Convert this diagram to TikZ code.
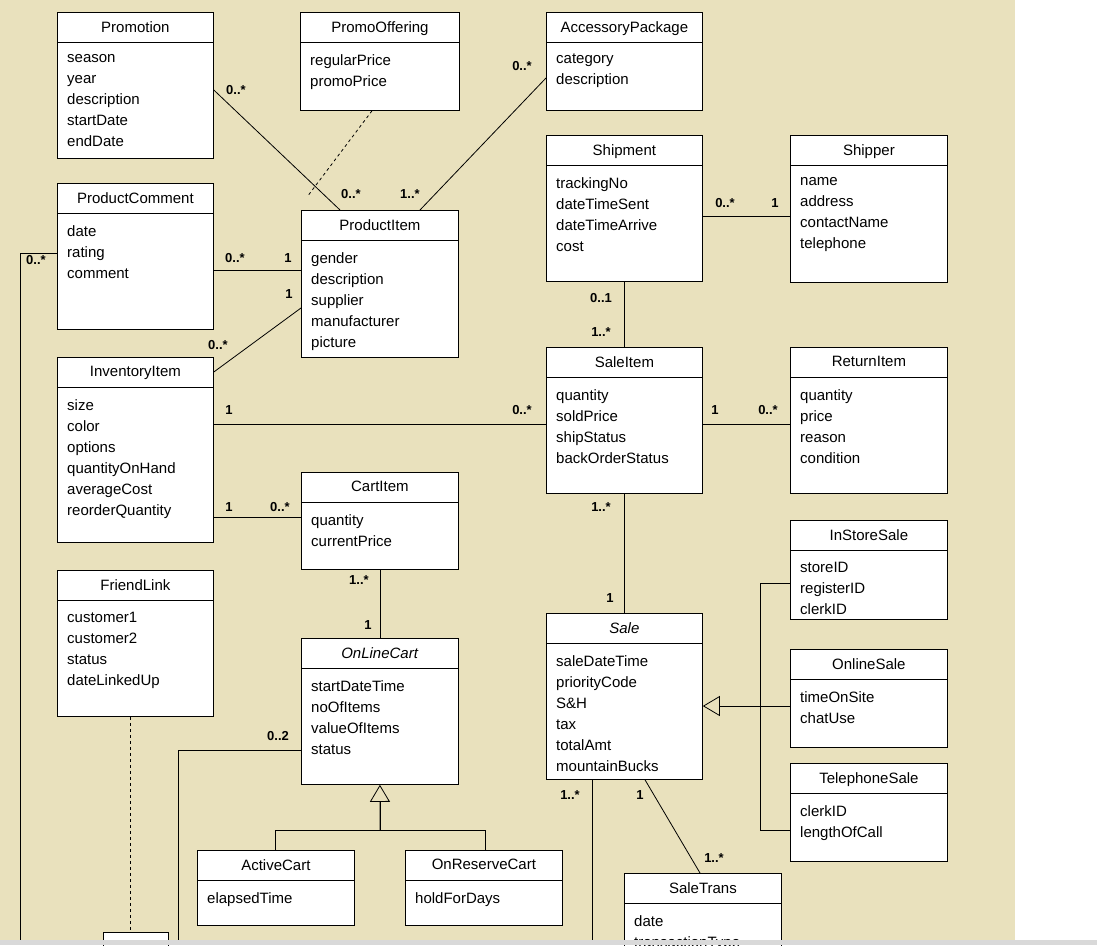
\documentclass[tikz,border=0pt]{standalone}
\usepackage{fontspec}
\setmainfont{Liberation Sans}
\usetikzlibrary{arrows.meta,positioning,calc}
\definecolor{paper}{HTML}{E9E1BD}
\tikzset{
  cls/.style={draw, thick, fill=white, inner sep=0pt, anchor=north west},
  ttl/.style={font=\fontsize{15}{18}\selectfont, anchor=north, inner sep=0pt},
  att/.style={font=\fontsize{15}{21}\selectfont, align=left, anchor=north west, inner sep=0pt},
  mult/.style={font=\fontsize{13}{15}\selectfont\bfseries, inner sep=1pt},
  link/.style={thick},
  note/.style={thick, dash pattern=on 3pt off 3pt},
  gen/.style={thick, -{Triangle[open, length=17pt, width=20pt]}}
}
% name, x, y, width, height, title, attributes
\newcommand\umlbox[7]{%
  \node[cls, minimum width=#4pt, minimum height=#5pt] (#1) at (#2,#3) {};
  \draw[thick] (#1.north west) ++(0,30) -- ++(#4,0);
  \node[ttl] at ($(#1.north)+(0,9)$) {#6};
  \node[att] at ($(#1.north west)+(10,42)$) {#7};
}
\begin{document}
\begin{tikzpicture}[x=1pt, y=-1pt]
  \useasboundingbox (0,0) rectangle (1097,945);
  \fill[paper] (0,0) rectangle (1015,940);

  \umlbox{promotion}{57}{12}{156}{146}{Promotion}{season\\year\\description\\startDate\\endDate}
  \umlbox{promooffer}{300}{12}{159}{98}{PromoOffering}{regularPrice\\promoPrice}
  \umlbox{accessory}{546}{12}{156}{98}{AccessoryPackage}{category\\description}
  \umlbox{shipment}{546}{135}{156}{146}{Shipment}{trackingNo\\dateTimeSent\\dateTimeArrive\\cost}
  \umlbox{shipper}{790}{135}{157}{147}{Shipper}{name\\address\\contactName\\telephone}
  \umlbox{comment}{57}{183}{156}{146}{ProductComment}{date\\rating\\comment}
  \umlbox{product}{301}{210}{157}{147}{ProductItem}{gender\\description\\supplier\\manufacturer\\picture}
  \umlbox{inventory}{57}{357}{156}{185}{InventoryItem}{size\\color\\options\\quantityOnHand\\averageCost\\reorderQuantity}
  \umlbox{saleitem}{546}{347}{156}{146}{SaleItem}{quantity\\soldPrice\\shipStatus\\backOrderStatus}
  \umlbox{returnitem}{790}{347}{157}{146}{ReturnItem}{quantity\\price\\reason\\condition}
  \umlbox{cartitem}{301}{472}{157}{97}{CartItem}{quantity\\currentPrice}
  \umlbox{friend}{57}{570}{156}{146}{FriendLink}{customer1\\customer2\\status\\dateLinkedUp}
  \umlbox{instore}{790}{520}{157}{99}{InStoreSale}{storeID\\registerID\\clerkID}
  \umlbox{onlinecart}{301}{638}{157}{146}{\textit{OnLineCart}}{startDateTime\\noOfItems\\valueOfItems\\status}
  \umlbox{sale}{546}{613}{156}{166}{\textit{Sale}}{saleDateTime\\priorityCode\\S\&H\\tax\\totalAmt\\mountainBucks}
  \umlbox{onlinesale}{790}{649}{157}{98}{OnlineSale}{timeOnSite\\chatUse}
  \umlbox{phonesale}{790}{763}{157}{98}{TelephoneSale}{clerkID\\lengthOfCall}
  \umlbox{activecart}{197}{850}{157}{75}{ActiveCart}{elapsedTime}
  \umlbox{reservecart}{405}{850}{157}{75}{OnReserveCart}{holdForDays}
  \umlbox{saletrans}{624}{873}{157}{80}{SaleTrans}{date\\transactionType}
  \node[cls, minimum width=65pt, minimum height=20pt] (lowbox) at (103,932) {};
  \fill[gray!30] (0,940) rectangle (1097,945);

  % associations
  \coordinate (promomid) at (307,197);
  \draw[link] (promotion.east |- 0,90) -- (product.north west -| 340,0);
  \draw[note] (promooffer.south -| 372,0) -- (promomid);
  \draw[link] (accessory.west |- 0,78) -- (product.north -| 420,0);
  \draw[link] (comment.east |- 0,270) -- (product.west |- 0,270);
  \draw[link] (inventory.north east |- 0,372) -- (product.west |- 0,308);
  \draw[link] (inventory.east |- 0,424) -- (saleitem.west |- 0,424);
  \draw[link] (saleitem.east |- 0,424) -- (returnitem.west |- 0,424);
  \draw[link] (shipment.south) -- (saleitem.north);
  \draw[link] (shipment.east |- 0,216) -- (shipper.west |- 0,216);
  \draw[link] (inventory.east |- 0,517) -- (cartitem.west |- 0,517);
  \draw[link] (cartitem.south) -- (onlinecart.north);
  \draw[link] (saleitem.south) -- (sale.north);
  \draw[link] (sale.south -| 645,0) -- (saletrans.north -| 700,0);
  \draw[link] (sale.south -| 592,0) -- (592,940);
  \draw[link] (onlinecart.west |- 0,750) -- (178,750) -- (178,940);
  \draw[link] (comment.west |- 0,253) -- (20,253) -- (20,940);
  \draw[note] (friend.south -| 130,0) -- (lowbox.north -| 130,0);

  % generalizations
  \draw[gen] (760,706) -- (sale.east |- 0,706);
  \draw[link] (instore.west |- 0,583) -- (760,583) -- (760,830) -- (phonesale.west |- 0,830);
  \draw[link] (onlinesale.west |- 0,706) -- (719,706);
  \draw[gen] (380,830) -- (onlinecart.south);
  \draw[link] (380,830) -- (380,801);
  \draw[link] (activecart.north -| 275,0) -- (275,830) -- (485,830) -- (reservecart.north -| 485,0);

  % multiplicities
  \node[mult] at (236,90) {0..*};
  \node[mult] at (351,194) {0..*};
  \node[mult] at (410,194) {1..*};
  \node[mult] at (522,66) {0..*};
  \node[mult] at (235,258) {0..*};
  \node[mult] at (288,258) {1};
  \node[mult] at (36,260) {0..*};
  \node[mult] at (218,345) {0..*};
  \node[mult] at (289,294) {1};
  \node[mult] at (229,410) {1};
  \node[mult] at (522,410) {0..*};
  \node[mult] at (715,410) {1};
  \node[mult] at (768,410) {0..*};
  \node[mult] at (601,298) {0..1};
  \node[mult] at (601,332) {1..*};
  \node[mult] at (725,203) {0..*};
  \node[mult] at (775,203) {1};
  \node[mult] at (229,507) {1};
  \node[mult] at (280,507) {0..*};
  \node[mult] at (359,580) {1..*};
  \node[mult] at (368,625) {1};
  \node[mult] at (601,507) {1..*};
  \node[mult] at (610,598) {1};
  \node[mult] at (278,736) {0..2};
  \node[mult] at (570,795) {1..*};
  \node[mult] at (640,795) {1};
  \node[mult] at (714,858) {1..*};
\end{tikzpicture}
\end{document}
